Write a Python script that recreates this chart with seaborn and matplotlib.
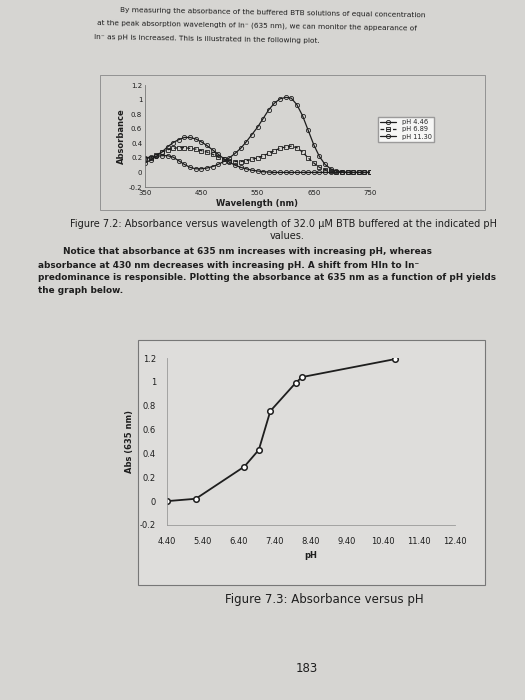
import numpy as np
import pandas as pd
import matplotlib
matplotlib.use("Agg")
import matplotlib.pyplot as plt
import seaborn as sns
from matplotlib.patches import Rectangle

sns.set_theme(style="white")
plt.rcParams['font.family'] = ['DejaVu Sans']

# ---- Figure 7.2 data (absorbance spectra) ----
wavelength = list(range(350, 760, 10))
abs_ph446 = [.13,.17,.22,.28,.35,.41,.45,.48,.48,.46,.42,.37,.31,.25,.19,.14,.10,.07,.05,.03,.02,.01,
             .005,0,0,0,0,0,0,0,0,0,0,0,0,0,0,0,0,0,0]
abs_ph689 = [.18,.20,.24,.28,.31,.33,.34,.34,.33,.32,.30,.28,.25,.21,.18,.16,.15,.15,.16,.18,.20,.23,
             .26,.30,.33,.35,.36,.34,.28,.20,.13,.07,.04,.02,.01,0,0,0,0,0,0]
abs_ph1130 = [.20,.21,.22,.23,.23,.21,.16,.11,.07,.05,.05,.06,.08,.11,.15,.20,.26,.33,.42,.52,.62,.74,
              .86,.95,1.01,1.03,1.02,.93,.78,.58,.38,.22,.11,.05,.02,.01,0,0,0,0,0]
series_names = ["pH 4.46", "pH 6.89", "pH 11.30"]

# ---- Figure 7.3 data ----
ph_values = [4.40, 5.20, 6.55, 6.95, 7.27, 7.97, 8.15, 10.72]
abs635 = [0.0, 0.02, 0.29, 0.43, 0.755, 0.99, 1.04, 1.19]
ph_ticks = [4.40, 5.40, 6.40, 7.40, 8.40, 9.40, 10.40, 11.40, 12.40]
abs_ticks = [-0.2, 0, 0.2, 0.4, 0.6, 0.8, 1, 1.2]

W, H = 525, 700
fig = plt.figure(figsize=(5.25, 7), dpi=100)
fig.patch.set_facecolor('#d6d5d2')

def box(l, t, w, h):
    return [l / W, 1 - (t + h) / H, w / W, h / H]

def txt(x, y, s, **kw):
    fig.text(x / W, 1 - y / H, s, **kw)

ink = '#1e1e1e'
# top paragraph
for i, s in enumerate(["By measuring the absorbance of the buffered BTB solutions of equal concentration",
                       "at the peak absorption wavelength of In\u207b (635 nm), we can monitor the appearance of",
                       "In\u207b as pH is increased. This is illustrated in the following plot."]):
    txt(100 - i * 3 + (20 if i == 0 else 0), 13 + i * 13, s, fontsize=5.3, color=ink, va='center', rotation=-1)

# frame for top chart
fig.add_artist(Rectangle((100 / W, 1 - 210 / H), 385 / W, 135 / H, transform=fig.transFigure,
                         fill=False, lw=0.6, ec='#888888', zorder=-1))
ax1 = fig.add_axes(box(145, 85, 225, 102))
ax1.set_facecolor('none')
df1 = pd.DataFrame({"wl": wavelength * 3,
                    "A": abs_ph446 + abs_ph689 + abs_ph1130,
                    "s": [series_names[0]] * len(wavelength) + [series_names[1]] * len(wavelength)
                         + [series_names[2]] * len(wavelength)})
sns.lineplot(data=df1, x="wl", y="A", hue="s", style="s",
             palette=[ink, ink, ink], markers=['o', 's', 'o'],
             dashes=[(None, None), (3, 2), (None, None)], linewidth=0.9,
             markersize=3, markerfacecolor='none', markeredgecolor=ink, markeredgewidth=0.6, ax=ax1)
ax1.set_xlim(350, 750); ax1.set_ylim(-0.2, 1.2)
ax1.set_xticks([350, 450, 550, 650, 750])
ax1.set_yticks([-0.2, 0, 0.2, 0.4, 0.6, 0.8, 1, 1.2])
ax1.set_yticklabels(["-0.2", "0", "0.2", "0.4", "0.6", "0.8", "1", "1.2"])
ax1.tick_params(labelsize=5, length=0, pad=2, colors=ink)
for sp in ['top', 'right']:
    ax1.spines[sp].set_visible(False)
for sp in ['left', 'bottom']:
    ax1.spines[sp].set_color('#777777'); ax1.spines[sp].set_linewidth(0.6)
ax1.set_xlabel("Wavelength (nm)", fontsize=6, fontweight='bold', labelpad=2, color=ink)
ax1.set_ylabel("Absorbance", fontsize=6, fontweight='bold', labelpad=2, color=ink)
ax1.legend(loc='upper left', bbox_to_anchor=(1.02, 0.72), fontsize=4.8, frameon=True,
           edgecolor='#888888', fancybox=False, handlelength=2.5, borderpad=0.3, labelspacing=0.2)

txt(70, 224, "Figure 7.2: Absorbance versus wavelength of 32.0 \u03bcM BTB buffered at the indicated pH",
    fontsize=7, color=ink, va='center')
txt(270, 236, "values.", fontsize=7, color=ink, va='center')

for y, s in [(252, "        Notice that absorbance at 635 nm increases with increasing pH, whereas"),
             (265, "absorbance at 430 nm decreases with increasing pH. A shift from HIn to In\u207b"),
             (278, "predominance is responsible. Plotting the absorbance at 635 nm as a function of pH yields"),
             (290, "the graph below.")]:
    txt(38, y, s, fontsize=6.4, color=ink, va='center', fontweight='bold')

# frame for bottom chart
fig.add_artist(Rectangle((138 / W, 1 - 585 / H), 347 / W, 245 / H, transform=fig.transFigure,
                         fill=True, fc='#dedddb', lw=0.8, ec='#777777', zorder=-1))
ax2 = fig.add_axes(box(167, 358, 288, 167))
ax2.set_facecolor('none')
df2 = pd.DataFrame({"pH": ph_values, "A": abs635})
sns.lineplot(data=df2, x="pH", y="A", color=ink, linewidth=1.3, marker='o', markersize=4,
             markerfacecolor='white', markeredgecolor=ink, markeredgewidth=1.1, ax=ax2)
ax2.set_xlim(4.4, 12.4); ax2.set_ylim(-0.2, 1.2)
ax2.set_xticks(ph_ticks)
ax2.set_xticklabels([f"{v:.2f}" for v in ph_ticks])
ax2.set_yticks(abs_ticks)
ax2.set_yticklabels(["-0.2", "0", "0.2", "0.4", "0.6", "0.8", "1", "1.2"])
ax2.set_xticks(np.arange(4.4, 12.41, 0.2), minor=True)
ax2.set_yticks(np.arange(-0.2, 1.21, 0.02), minor=True)
ax2.tick_params(axis='both', which='major', labelsize=6, length=0, pad=8, colors=ink)
ax2.tick_params(axis='both', which='minor', length=2.5, width=0.6, color='#999999', direction='out')
ax2.tick_params(axis='x', which='major', pad=9)
for sp in ['top', 'right']:
    ax2.spines[sp].set_visible(False)
for sp in ['left', 'bottom']:
    ax2.spines[sp].set_color('#999999'); ax2.spines[sp].set_linewidth(0.6)
ax2.set_xlabel("pH", fontsize=6, fontweight='bold', labelpad=3, color=ink)
ax2.set_ylabel("Abs (635 nm)", fontsize=6, fontweight='bold', labelpad=4, color=ink)

txt(225, 600, "Figure 7.3: Absorbance versus pH", fontsize=8.5, color=ink, va='center')
txt(307, 668, "183", fontsize=8.5, color=ink, va='center', ha='center')

fig.savefig("out.png", dpi=100, facecolor=fig.get_facecolor())
